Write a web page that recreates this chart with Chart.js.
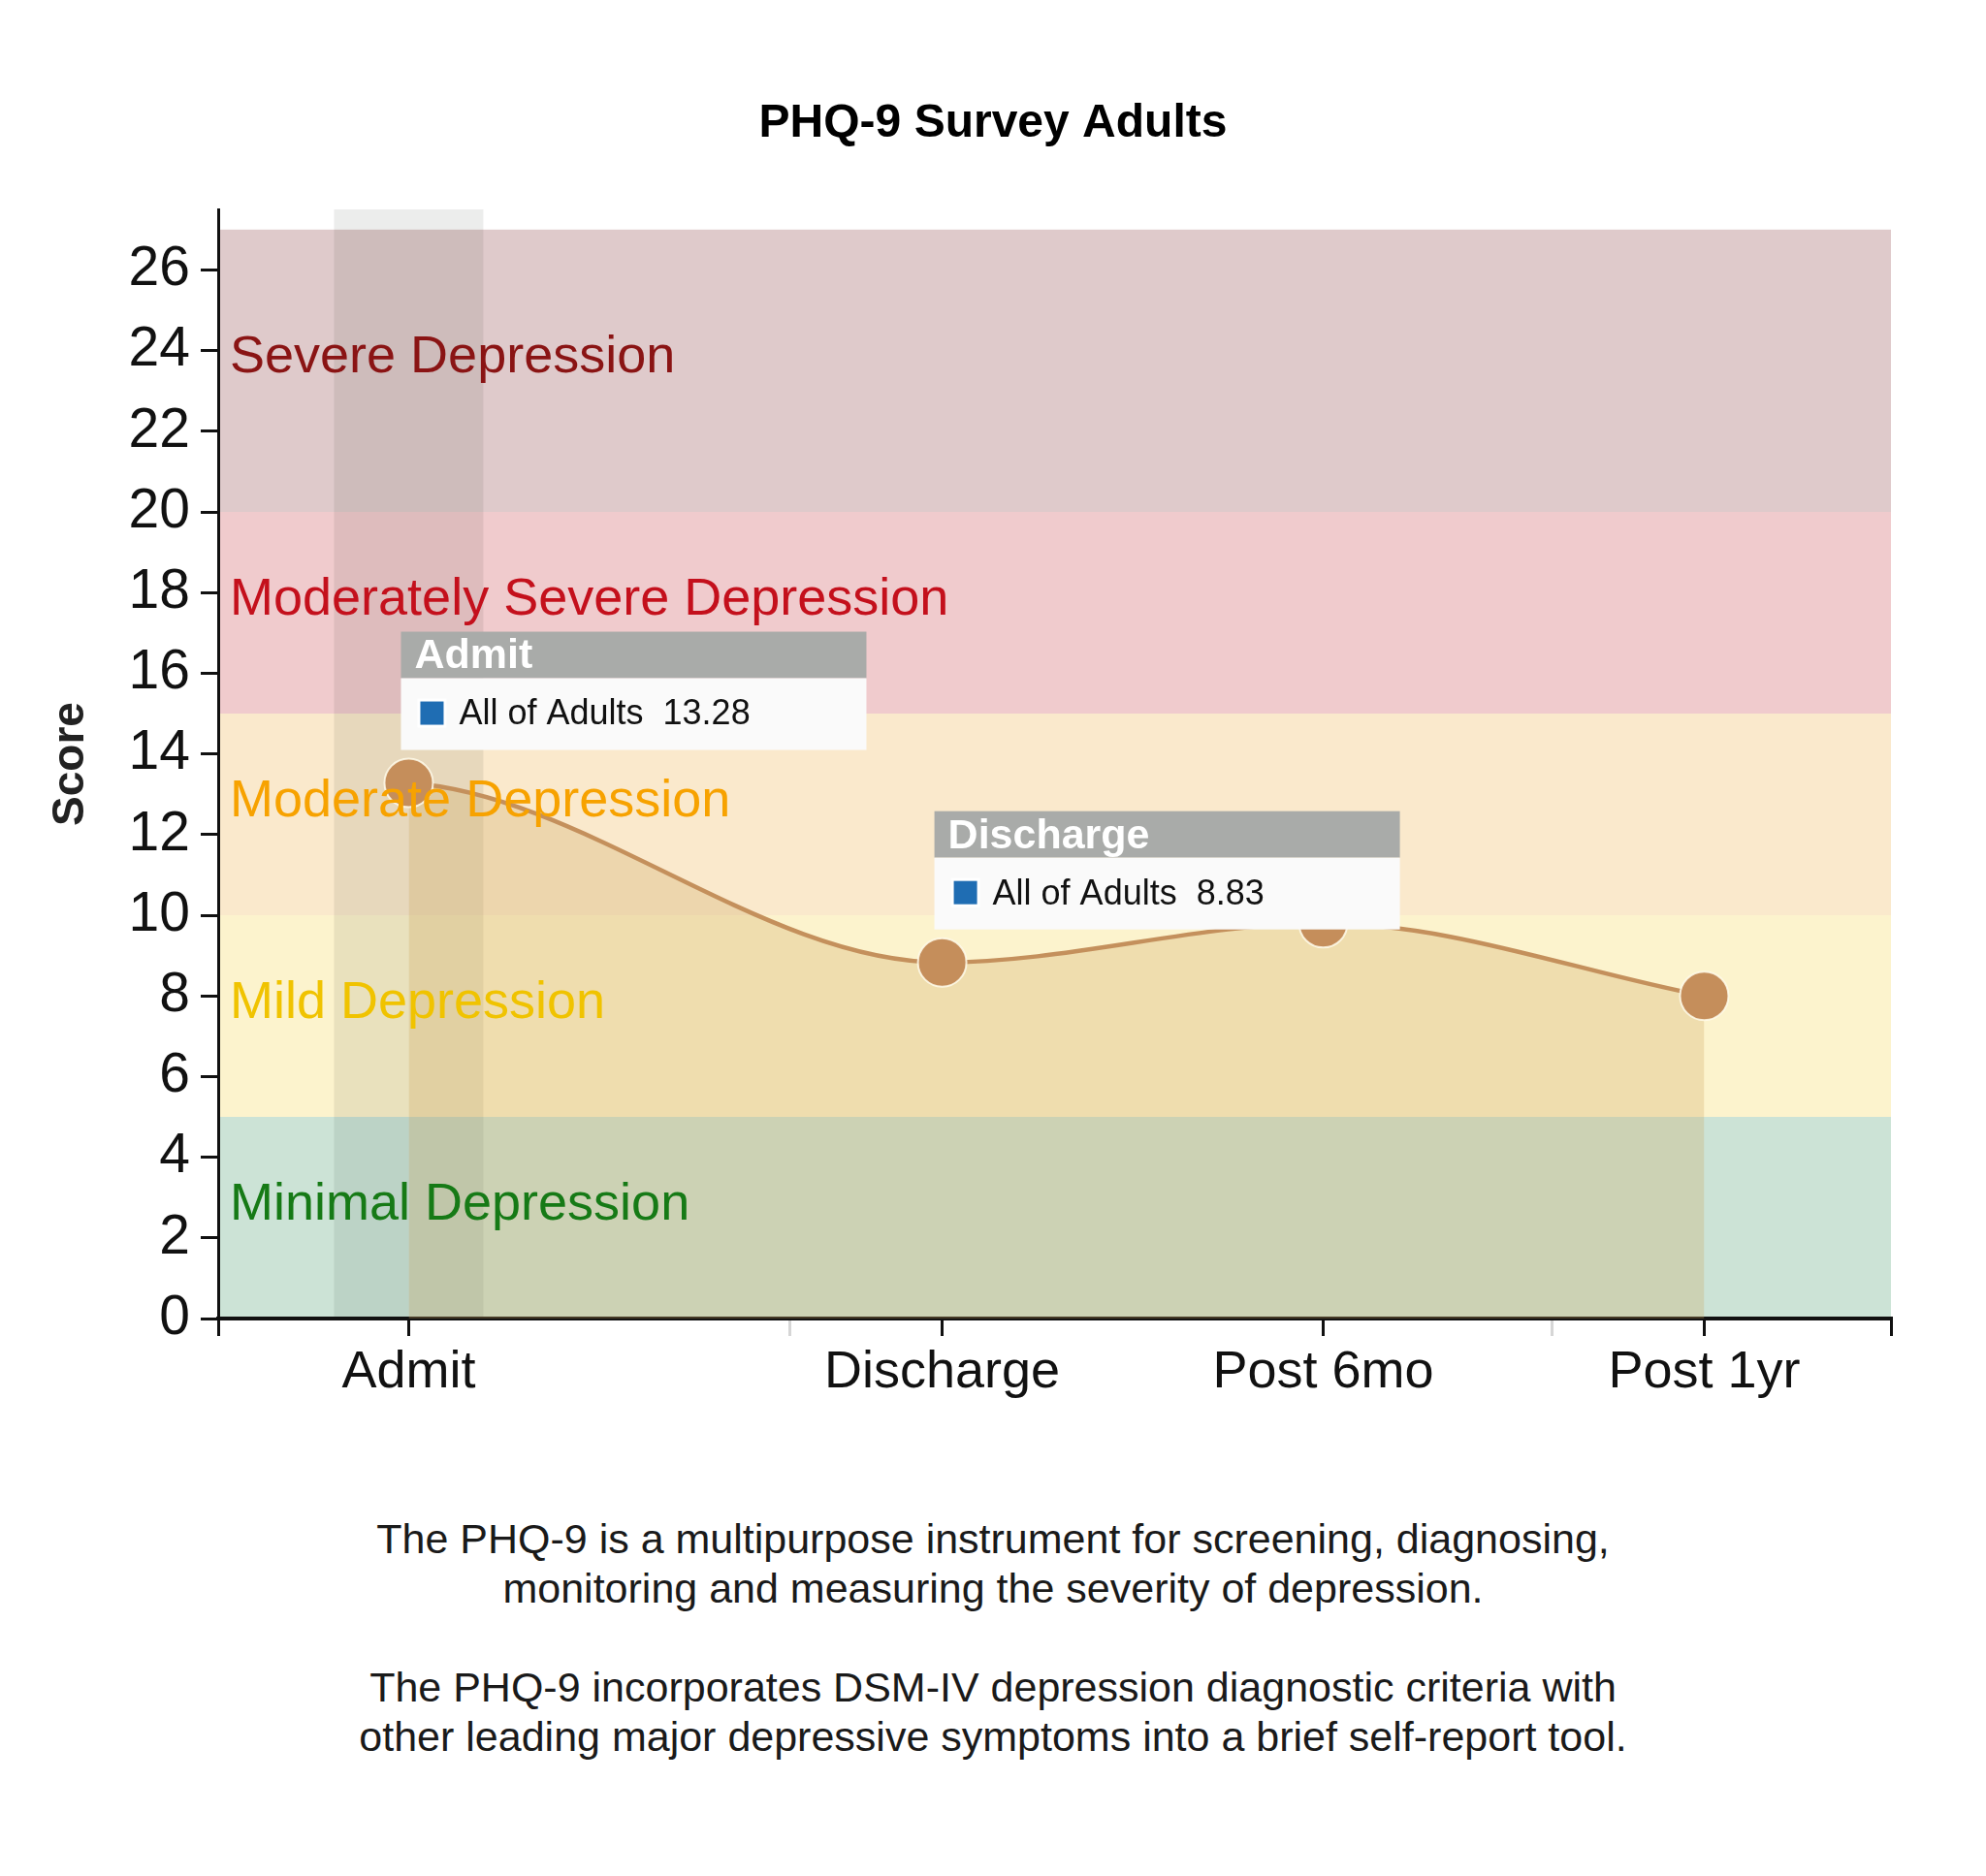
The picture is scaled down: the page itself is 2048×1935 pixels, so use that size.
<!DOCTYPE html>
<html>
<head>
<meta charset="utf-8">
<title>PHQ-9 Survey Adults</title>
<script src="https://cdn.jsdelivr.net/npm/chart.js@4.4.1/dist/chart.umd.min.js"></script>
<style>
  body { margin: 0; background: #fff; font-family: "Liberation Sans", Arial, sans-serif; }
  #wrap { position: relative; width: 2048px; height: 1935px; }
  #chart { position: absolute; left: 0; top: 0; }
  #notes {
    position: absolute; left: 0; top: 1562px; width: 2048px;
    text-align: center; font-size: 43px; line-height: 51px; color: #1a1a1a;
  }
</style>
</head>
<body>
<div id="wrap">
  <canvas id="chart" width="2048" height="1480"></canvas>
  <div id="notes">
    The PHQ-9 is a multipurpose instrument for screening, diagnosing,<br>
    monitoring and measuring the severity of depression.<br>
    <br>
    The PHQ-9 incorporates DSM-IV depression diagnostic criteria with<br>
    other leading major depressive symptoms into a brief self-report tool.
  </div>
</div>
<script>
// data
const categories = ['Admit', 'Discharge', 'Post 6mo', 'Post 1yr'];
const monthsSinceAdmit = [0, 7, 12, 17];
const minorTicks = [5, 15];
const adultScores = [13.28, 8.83, 9.8, 8.0];
const seriesName = 'All of Adults';
const shownTips = [0, 1];

const bandNames = ['Minimal Depression', 'Mild Depression', 'Moderate Depression',
  'Moderately Severe Depression', 'Severe Depression'];
const bandFrom = [0, 5, 10, 15, 20];
const bandTo = [5, 10, 15, 20, 27];

// styles
const bandFills = ['#cce3d6', '#fcf3cd', '#fae9cc', '#f0cbcd', '#dfcacb'];
const bandInk = ['#167a16', '#f0c300', '#f7a200', '#c4101c', '#8a1414'];
const FONT = '"Liberation Sans", Arial, sans-serif';

const bandsPlugin = {
  id: 'bands',
  beforeDraw(chart) {
    const { ctx, chartArea: a, scales: { x, y } } = chart;
    ctx.save();
    bandFrom.forEach((v, i) => {
      const top = y.getPixelForValue(bandTo[i]);
      const bot = y.getPixelForValue(v);
      ctx.fillStyle = bandFills[i];
      ctx.fillRect(a.left, top, a.right - a.left, bot - top);
    });
    // hover column on Admit
    const cx = x.getPixelForValue(monthsSinceAdmit[0]);
    ctx.fillStyle = 'rgba(0,10,5,0.075)';
    ctx.fillRect(cx - 77, a.top, 154, a.bottom - a.top);
    ctx.restore();
  },
  beforeDatasetsDraw(chart) {
    // flatten the start of the curve a little, like the original spline
    const meta = chart.getDatasetMeta(0);
    meta.dataset.updateControlPoints(chart.chartArea, 'x');
    const p = meta.data[0];
    p.cp2y = p.y + (p.cp2y - p.y) * 0.2;
  },
  afterDatasetsDraw(chart) {
    const { ctx, chartArea: a, scales: { y } } = chart;
    ctx.save();
    ctx.font = '54px ' + FONT;
    ctx.textBaseline = 'middle';
    bandNames.forEach((name, i) => {
      const mid = y.getPixelForValue((bandFrom[i] + bandTo[i]) / 2);
      ctx.fillStyle = bandInk[i];
      ctx.fillText(name, a.left + 12, mid - 13);
    });
    ctx.restore();
  },
  afterDraw(chart) {
    const { ctx } = chart;
    const pts = chart.getDatasetMeta(0).data;
    ctx.save();
    shownTips.forEach(i => {
      const p = pts[i];
      const w = 480, hh = 48, bh = 74;
      const left = p.x - 8, top = p.y - 156;
      ctx.fillStyle = '#a9aba9';
      ctx.fillRect(left, top, w, hh);
      ctx.fillStyle = '#fafafa';
      ctx.fillRect(left, top + hh, w, bh);
      ctx.textBaseline = 'middle';
      ctx.fillStyle = '#fff';
      ctx.font = 'bold 43px ' + FONT;
      ctx.fillText(categories[i], left + 14, top + hh / 2 + 2);
      const by = top + hh + bh / 2;
      ctx.fillStyle = '#fff';
      ctx.fillRect(left + 17, by - 16, 30, 30);
      ctx.fillStyle = '#1f6db3';
      ctx.fillRect(left + 20, by - 13, 24, 24);
      ctx.fillStyle = '#111';
      ctx.font = '36px ' + FONT;
      ctx.fillText(seriesName + '  ' + adultScores[i].toFixed(2), left + 60, by + 1);
    });
    ctx.restore();
  }
};

const canvas = document.getElementById('chart');
new Chart(canvas.getContext('2d'), {
  type: 'line',
  data: {
    datasets: [{
      label: seriesName,
      data: monthsSinceAdmit.map((m, i) => ({ x: m, y: adultScores[i] })),
      borderColor: '#c4905c',
      borderWidth: 4.5,
      backgroundColor: 'rgba(205,165,95,0.28)',
      fill: 'origin',
      cubicInterpolationMode: 'monotone',
      pointRadius: 25,
      pointBackgroundColor: '#c58e5b',
      pointBorderColor: 'rgba(255,252,235,0.85)',
      pointBorderWidth: 2
    }]
  },
  options: {
    responsive: false,
    devicePixelRatio: 1,
    animation: false,
    layout: { padding: 0 },
    plugins: {
      legend: { display: false },
      tooltip: { enabled: false },
      title: {
        display: true,
        text: 'PHQ-9 Survey Adults',
        color: '#000',
        font: { family: FONT, size: 48, weight: 'bold', lineHeight: 1.2 },
        padding: { top: 99.2, bottom: 59.2 }
      }
    },
    scales: {
      x: {
        type: 'linear',
        min: -2.5,
        max: 19.45,
        afterBuildTicks: s => {
          const vals = [s.min, ...monthsSinceAdmit, ...minorTicks, s.max].sort((a, b) => a - b);
          s.ticks = vals.map(v => ({ value: v }));
        },
        afterFit: s => { s.height = 120; },
        ticks: {
          autoSkip: false,
          maxRotation: 0,
          padding: 6,
          color: '#111',
          font: { family: FONT, size: 54 },
          callback: v => {
            const i = monthsSinceAdmit.indexOf(v);
            return i >= 0 ? categories[i] : '';
          }
        },
        grid: {
          drawOnChartArea: false,
          tickLength: 18,
          lineWidth: 3,
          color: c => (c.tick && minorTicks.includes(c.tick.value)) ? '#d6d6d6' : '#111'
        },
        border: { color: '#111', width: 4 }
      },
      y: {
        min: 0,
        max: 27.5,
        afterFit: s => { s.width = 225; },
        ticks: {
          stepSize: 2,
          includeBounds: false,
          padding: 11,
          color: '#111',
          font: { family: FONT, size: 57 }
        },
        grid: {
          drawOnChartArea: false,
          tickLength: 18,
          lineWidth: 3,
          color: '#111'
        },
        border: { color: '#111', width: 3 },
        title: {
          display: true,
          text: 'Score',
          color: '#222',
          font: { family: FONT, size: 46, weight: 'bold', lineHeight: 1.2 },
          padding: { top: 46, bottom: 0 }
        }
      },
      y2: {
        position: 'right',
        afterFit: s => { s.width = 98; },
        grid: { display: false },
        border: { display: false },
        ticks: { display: false }
      }
    }
  },
  plugins: [bandsPlugin]
});
</script>
</body>
</html>
